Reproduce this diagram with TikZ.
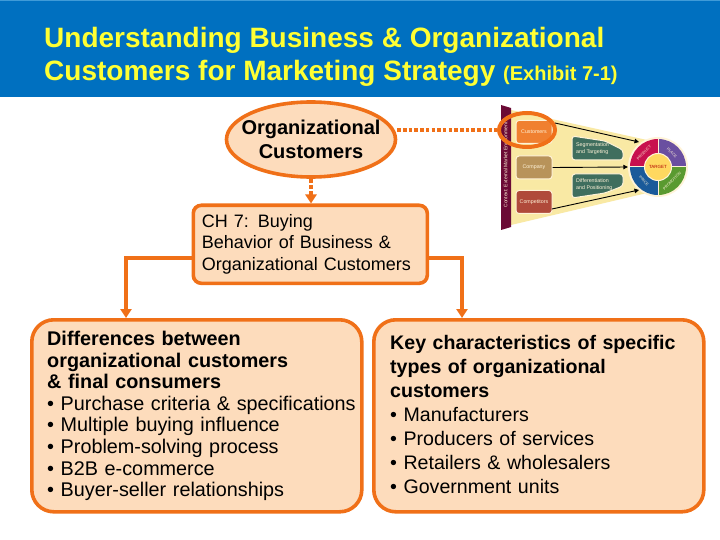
\documentclass[tikz,border=0pt]{standalone}
\usepackage{fontspec}
\setmainfont{Liberation Sans}
\usetikzlibrary{shapes.geometric,arrows.meta,calc}
\definecolor{hdr}{HTML}{0070C0}
\definecolor{hdrtop}{HTML}{3F9BD8}
\definecolor{ttl}{HTML}{FFFF33}
\definecolor{org}{HTML}{F07018}
\definecolor{peach}{HTML}{FDDCBC}
\definecolor{maroon}{HTML}{6B0A35}
\definecolor{pale}{HTML}{F9E9A4}
\definecolor{tealbox}{HTML}{3F6E5E}
\definecolor{cream}{HTML}{FFF3D8}
\definecolor{mcust}{HTML}{F08030}
\definecolor{mcomp}{HTML}{B8935A}
\definecolor{mrival}{HTML}{B04A3A}
\definecolor{wprod}{HTML}{C8104E}
\definecolor{wplace}{HTML}{6A4FA0}
\definecolor{wpromo}{HTML}{5A9A30}
\definecolor{wprice}{HTML}{1A5A9A}
\definecolor{wtarget}{HTML}{FFD860}
\tikzset{
  x=1pt,y=-1pt,
  boxa/.style={draw=org,line width=3.6pt,fill=peach,rounded corners=8pt,text=black,inner sep=0pt},
  boxb/.style={draw=org,line width=3.6pt,fill=peach,rounded corners=22pt,inner sep=0pt},
  bodytxt/.style={anchor=west,inner sep=0pt,align=left,text=black,text width=315pt},
  conn/.style={draw=org,line width=3.2pt,-{Triangle[length=9pt,width=11pt]}},
  dots/.style={draw=org,line width=3.5pt,dash pattern=on 3.5pt off 2.2pt},
  minibox/.style={rounded corners=3pt,draw=cream,line width=1pt,text=cream,font=\fontsize{5.3}{6}\selectfont,align=center,inner sep=0pt,minimum width=36pt,minimum height=23pt},
  miniseg/.style={fill=tealbox,draw=cream,line width=1pt,rounded corners=3pt},
  minitxt/.style={text=cream,font=\fontsize{5.3}{7}\selectfont,align=left,inner sep=0pt},
  miniarr/.style={draw=black,line width=0.9pt,-{Triangle[length=4.5pt,width=4.5pt]}},
  seg/.style={font=\fontsize{3.8}{4}\selectfont,text=cream,inner sep=0pt},
  ttlstyle/.style={anchor=base west,inner sep=0pt,text=ttl,font=\fontsize{28}{28}\bfseries\selectfont}
}
\begin{document}
\begin{tikzpicture}
\useasboundingbox (0,0) rectangle (720,540);
\fill[white] (0,0) rectangle (720,540);
\fill[hdr] (0,0) rectangle (720,97);
\fill[hdrtop] (0,0) rectangle (720,1.2);
\node[ttlstyle] (t1) at (44,48) {Understanding Business \& Organizational};
\node[ttlstyle] (t2) at (44,81) {Customers for Marketing Strategy {\fontsize{20}{20}\selectfont (Exhibit 7-1)}};
% mini diagram
\fill[pale] (511,110) -- (647,140) -- (647,193) -- (511,225) -- cycle;
\fill[maroon] (501,105) -- (511,108) -- (511,227) -- (501,230) -- cycle;
\node[rotate=90,font=\fontsize{5}{6}\selectfont,text=cream,inner sep=0pt] (cx) at (505.5,165) {Context: External Market Environment};
\node[minibox,fill=mcust] (cu) at (534,132) {Customers};
\node[minibox,fill=mcomp] (co) at (534,167.5) {Company};
\node[minibox,fill=mrival] (cm) at (534,202) {Competitors};
\draw[miniseg] (572,136) -- (605,141) -- (623,150) -- (623,160) -- (572,160) -- cycle;
\draw[miniseg] (572,174) -- (623,174) -- (623,186) -- (605,193) -- (572,198) -- cycle;
\node[minitxt,anchor=west] (sg) at (576,149) {Segmentation\\and Targeting};
\node[minitxt,anchor=west] (df) at (576,185) {Differentiation\\and Positioning};
\node[circle,fill=cream,minimum size=60pt,inner sep=0pt] (wheel) at (658,167) {};
\fill[wprod] (658,167) -- (630,167) arc[start angle=180,end angle=270,radius=28] -- cycle;
\fill[wplace] (658,167) -- (658,139) arc[start angle=-90,end angle=0,radius=28] -- cycle;
\fill[wpromo] (658,167) -- (686,167) arc[start angle=0,end angle=90,radius=28] -- cycle;
\fill[wprice] (658,167) -- (658,195) arc[start angle=90,end angle=180,radius=28] -- cycle;
\draw[cream,line width=1pt] (630,167) -- (686,167) (658,139) -- (658,195);
\node[circle,fill=wtarget,draw=cream,line width=1pt,minimum size=27pt,inner sep=0pt,font=\fontsize{4.5}{5}\selectfont,text=red!70!black] (tg) at (658,167) {TARGET};
\node[seg,rotate=45] (p1) at (644,153) {PRODUCT};
\node[seg,rotate=-45] (p2) at (672,153) {PLACE};
\node[seg,rotate=45] (p3) at (672,181) {PROMOTION};
\node[seg,rotate=-45] (p4) at (644,181) {PRICE};
\coordinate (a1s) at (555,123);
\coordinate (a1e) at (639,142);
\coordinate (a3s) at (552,209);
\coordinate (a3e) at (639,190);
\draw[miniarr] (a1s) -- (a1e);
\draw[miniarr] (co.east) -- (wheel.west);
\draw[miniarr] (a3s) -- (a3e);
\node[draw=org,line width=4pt,ellipse,minimum width=56pt,minimum height=34pt,inner sep=0pt] (ring) at (527,130) {};
% main
\node[ellipse,draw=org,line width=3.6pt,fill=peach,minimum width=169pt,minimum height=75pt,inner xsep=-25pt,inner ysep=-12pt,align=center,font=\fontsize{20}{24}\bfseries\selectfont] (orgc) at (311,139.5) {Organizational\\Customers};
\node[boxa,minimum width=234pt,minimum height=78pt,anchor=north west,text width=217pt,align=left,font=\fontsize{18}{21.5}\selectfont] (ch) at (191.5,203.5) {CH 7: Buying\\Behavior of Business \&\\Organizational Customers};
\node[boxb,minimum width=330pt,minimum height=192pt,anchor=north west] (lb) at (30,318) {};
\node[boxb,minimum width=330pt,minimum height=192pt,anchor=north west] (rb) at (372,318) {};
\node[bodytxt,font=\fontsize{19.8}{21.6}\selectfont] (lt) at (47,416) {\textbf{Differences between\\organizational customers\\\& final consumers}\\• Purchase criteria \& specifications\\• Multiple buying influence\\• Problem-solving process\\• B2B e-commerce\\• Buyer-seller relationships};
\node[bodytxt,font=\fontsize{19.6}{24}\selectfont,text width=310pt] (rt) at (390,414) {\textbf{Key characteristics of specific\\types of organizational\\customers}\\• Manufacturers\\• Producers of services\\• Retailers \& wholesalers\\• Government units};
\coordinate (d1) at (orgc.east |- ring.west);
\draw[dots] (d1) -- (ring.west);
\draw[conn,dash pattern=on 4pt off 2pt] (orgc.south) -- (ch.north -| orgc.south);
\coordinate (cw) at (ch.west |- 0,258);
\coordinate (ce) at (ch.east |- 0,258);
\draw[conn] (cw) -| (lb.north -| 126,0);
\draw[conn] (ce) -| (rb.north -| 462,0);
\end{tikzpicture}
\end{document}
